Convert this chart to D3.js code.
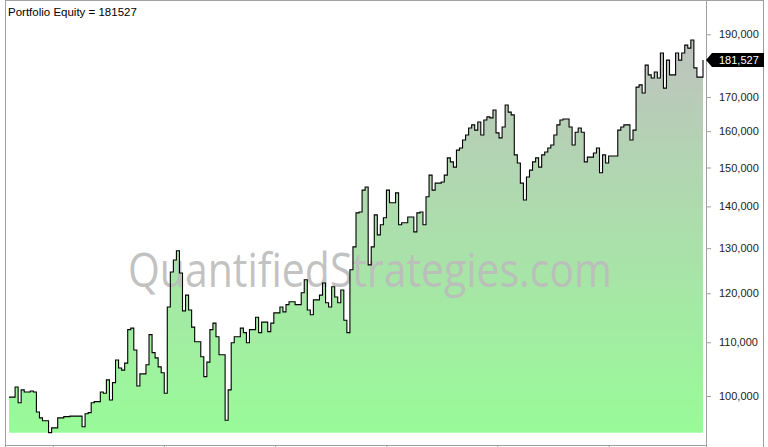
<!DOCTYPE html>
<html><head><meta charset="utf-8">
<script src="https://cdn.jsdelivr.net/npm/d3@7"></script>
<style>html,body{margin:0;padding:0;background:#fff;overflow:hidden}</style>
</head><body>
<svg id="chart" width="768" height="447"></svg>
<script>
// ---- data ----
const startDate = "2017-08-10";
const stepDays = 10;
const equity = [
  99800, 99800, 101600, 98800, 101100, 100700, 100700, 100900, 100700, 97200,
  96200, 95700, 95700, 93700, 94500, 94500, 96200, 96200, 96400, 96400,
  96500, 96500, 96500, 96500, 94700, 96900, 97100, 98800, 99000, 99000,
  100700, 100500, 102900, 99300, 102400, 106600, 105100, 104700, 106000, 112500,
  112800, 108500, 101800, 104000, 104000, 105700, 111500, 108000, 107000, 105300,
  104200, 100500, 117100, 124600, 127300, 129400, 124400, 116300, 119600, 116500,
  113000, 110100, 110100, 107200, 103500, 106200, 112500, 113800, 111100, 107600,
  107600, 95800, 101100, 109900, 111100, 111100, 112800, 111900, 109900, 112500,
  112500, 115000, 111900, 114000, 114000, 112100, 113800, 115900, 115900, 117100,
  116100, 117600, 118200, 118200, 117600, 117600, 120100, 122900, 116500, 115500,
  118600, 118600, 119600, 122200, 118000, 117100, 121400, 119200, 118000, 120700,
  114400, 111900, 125100, 130300, 138400, 138600, 144100, 144900, 126200, 130300,
  137900, 133100, 135500, 137200, 144100, 140900, 140900, 143400, 135500, 136000,
  136000, 137400, 137400, 133800, 138400, 138600, 135500, 142400, 148000, 144100,
  145900, 145900, 146200, 148000, 152600, 151500, 150100, 154700, 155300, 157500,
  158900, 160900, 161800, 160300, 162600, 158900, 163200, 164100, 163800, 166100,
  159500, 158100, 161200, 167600, 165500, 164700, 153400, 151200, 145900, 141600,
  147500, 149300, 151500, 152600, 150100, 153400, 154200, 155300, 156100, 158900,
  161800, 163200, 163500, 163500, 161200, 156100, 159700, 160900, 159700, 151500,
  152800, 152800, 153900, 155300, 148600, 153400, 151200, 153100, 153100, 153100,
  160300, 161200, 161800, 161800, 157500, 160300, 173000, 173700, 171200, 179900,
  176800, 175800, 177700, 175800, 183800, 172700, 181500, 176800, 176800, 183800,
  181500, 183800, 186400, 185400, 188100, 179000, 176100, 176100, 181527
];
const yTickValues = [100000, 110000, 120000, 130000, 140000, 150000, 160000, 170000, 190000];
const yearTicks = ["2018-01-01", "2019-01-01", "2020-01-01", "2021-01-01", "2022-01-01", "2023-01-01"];
const titleLabel = "Portfolio Equity";
const watermarkText = "QuantifiedStrategies.com";

// ---- chart ----
const svg = d3.select("#chart");
const parse = d3.timeParse("%Y-%m-%d");
const t0 = parse(startDate);
const data = equity.map((v, i) => ({ date: d3.timeDay.offset(t0, i * stepDays), value: v }));
const last = equity[equity.length - 1];

const x = d3.scaleTime().domain([data[0].date, data[data.length - 1].date]).range([9, 703]);
const y = d3.scaleLog().domain([100000, 190000]).range([396, 34.3]);
const floorY = y(d3.min(equity));

const defs = svg.append("defs");
const grad = defs.append("linearGradient").attr("id", "eqFill")
  .attr("gradientUnits", "userSpaceOnUse").attr("x1", 0).attr("x2", 0).attr("y1", 20).attr("y2", floorY);
grad.append("stop").attr("offset", 0).attr("stop-color", "#c0c0c0");
grad.append("stop").attr("offset", 1).attr("stop-color", "#98fb98");

// frame
const frame = "#a0a0a0";
svg.append("line").attr("x1", 5).attr("x2", 764).attr("y1", 0.5).attr("y2", 0.5).attr("stroke", frame);
svg.append("line").attr("x1", 5.5).attr("x2", 5.5).attr("y1", 0).attr("y2", 447).attr("stroke", frame);
svg.append("line").attr("x1", 706.5).attr("x2", 706.5).attr("y1", 0).attr("y2", 447).attr("stroke", frame);
svg.append("line").attr("x1", 763.5).attr("x2", 763.5).attr("y1", 0).attr("y2", 447).attr("stroke", frame);
svg.append("line").attr("x1", 5).attr("x2", 706).attr("y1", 445.5).attr("y2", 445.5).attr("stroke", frame);

// area + line
const area = d3.area().curve(d3.curveStepAfter)
  .x(d => x(d.date)).y0(floorY).y1(d => y(d.value));
const line = d3.line().curve(d3.curveStepAfter)
  .x(d => x(d.date)).y(d => y(d.value));

svg.append("path").datum(data).attr("d", area).attr("fill", "url(#eqFill)");

// watermark
svg.append("text").text(watermarkText)
  .attr("x", 128).attr("y", 287)
  .attr("textLength", 484).attr("lengthAdjust", "spacingAndGlyphs")
  .attr("font-family", "'Open Sans', 'Noto Sans', sans-serif").attr("font-size", 48)
  .attr("fill", "#bcbcbc").attr("fill-opacity", 0.92);

svg.append("path").datum(data).attr("d", line)
  .attr("fill", "none").attr("stroke", "#000").attr("stroke-width", 1.1);

// bottom axis (ticks only)
const xAxis = d3.axisBottom(x).tickValues(yearTicks.map(parse)).tickSizeInner(3).tickSizeOuter(0).tickFormat("");
const gx = svg.append("g").attr("transform", "translate(0,445)").call(xAxis);
gx.select(".domain").remove();
gx.selectAll(".tick line").attr("stroke", frame);

// right axis
const yAxis = d3.axisRight(y).tickValues(yTickValues).tickSize(4).tickPadding(8).tickFormat(d3.format(","));
const gy = svg.append("g").attr("transform", "translate(707,0)").call(yAxis);
gy.select(".domain").remove();
gy.selectAll(".tick line").attr("stroke", frame);
gy.selectAll(".tick text").attr("font-family", "Arial, 'Liberation Sans', sans-serif")
  .attr("font-size", 11).attr("fill", "#222");

// last value badge
const cy = y(last);
svg.append("path")
  .attr("d", `M706,${cy} L712,${cy - 7} L764,${cy - 7} L764,${cy + 7} L712,${cy + 7} Z`)
  .attr("fill", "#000");
svg.append("text").text(d3.format(",")(Math.round(last)))
  .attr("x", 719).attr("y", cy).attr("dy", "0.35em")
  .attr("font-family", "Arial, 'Liberation Sans', sans-serif").attr("font-size", 11).attr("fill", "#fff");

// title
svg.append("text").text(`${titleLabel} = ${last}`)
  .attr("x", 8).attr("y", 16)
  .attr("font-family", "Arial, 'Liberation Sans', sans-serif").attr("font-size", 11.5).attr("fill", "#000");
</script>
</body></html>
